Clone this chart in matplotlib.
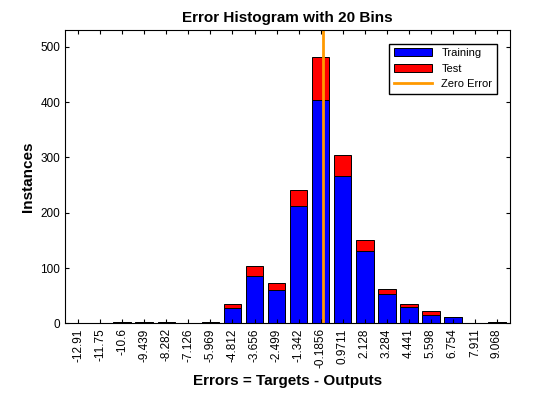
import matplotlib.pyplot as plt
import numpy as np

bins = ["-12.91", "-11.75", "-10.6", "-9.439", "-8.282", "-7.126", "-5.969", "-4.812",
        "-3.656", "-2.499", "-1.342", "-0.1856", "0.9711", "2.128", "3.284", "4.441",
        "5.598", "6.754", "7.911", "9.068"]
training = np.array([1, 1, 2, 2, 2, 0, 2, 28, 85, 61, 212, 403, 267, 130, 53, 29, 15, 12, 0, 2])
test = np.array([0, 0, 1, 1, 1, 0, 1, 7, 18, 12, 30, 78, 38, 20, 9, 6, 7, 0, 0, 1])

centers = np.array([float(b) for b in bins])
width = centers[1] - centers[0]
x = np.arange(len(bins))
zero_pos = (0 - centers[0]) / width

plt.rcParams['font.family'] = ['Liberation Sans', 'DejaVu Sans']
fig = plt.figure(figsize=(5.6, 4.2), dpi=100)
ax = fig.add_axes([0.116, 0.23, 0.795, 0.698])
h1 = ax.bar(x, training, width=0.8, color="#0000ff", edgecolor="black", linewidth=0.7, label="Training")
h2 = ax.bar(x, test, width=0.8, bottom=training, color="#ff0000", edgecolor="black", linewidth=0.7, label="Test")
h3 = ax.axvline(zero_pos, color="#ff9900", linewidth=2, label="Zero Error")

ax.set_xlim(-0.6, 19.6)
ax.set_ylim(0, 530)
ax.set_xticks(x)
ax.set_xticklabels(bins, rotation=90, fontsize=8.5)
ax.set_yticks([0, 100, 200, 300, 400, 500])
ax.tick_params(axis="y", labelsize=8.5)
ax.tick_params(direction="in", top=True, right=True, length=3)
ax.set_xlabel("Errors = Targets - Outputs", fontsize=11, fontweight="bold")
ax.set_ylabel("Instances", fontsize=11, fontweight="bold")
ax.set_title("Error Histogram with 20 Bins", fontsize=11, fontweight="bold")
ax.legend(handles=[h1, h2, h3], loc="upper right", fontsize=8, fancybox=False,
          edgecolor="black", framealpha=1, handlelength=3.5, borderaxespad=1.2)

fig.savefig("out.png")
